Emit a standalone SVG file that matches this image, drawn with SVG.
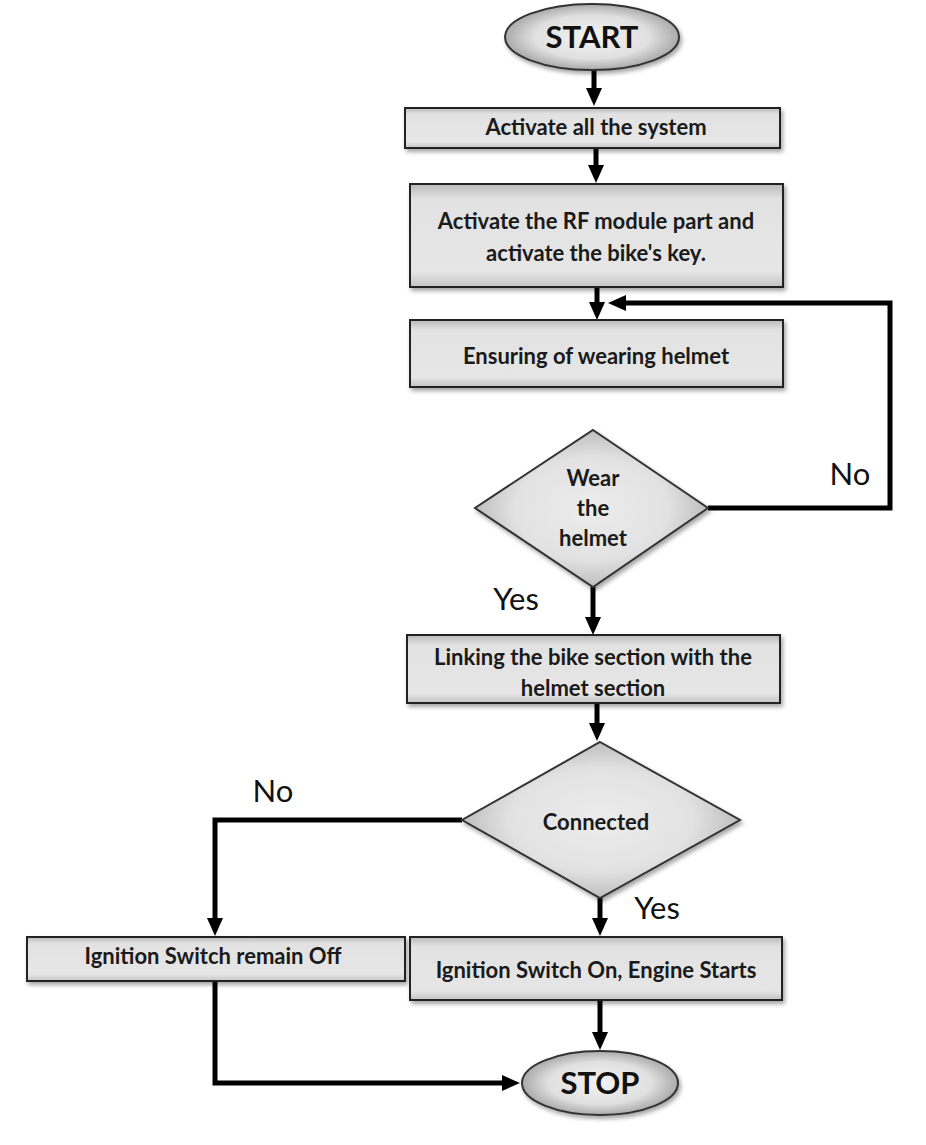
<svg xmlns="http://www.w3.org/2000/svg" width="926" height="1145" viewBox="0 0 926 1145">
<defs>
<linearGradient id="boxg" x1="0" y1="0" x2="0" y2="1">
<stop offset="0" stop-color="#b9b9b9"/>
<stop offset="0.15" stop-color="#e2e2e2"/>
<stop offset="0.85" stop-color="#e6e6e6"/>
<stop offset="1" stop-color="#c4c4c4"/>
</linearGradient>
<radialGradient id="ovalg" cx="0.5" cy="0.5" r="0.55">
<stop offset="0" stop-color="#f2f2f2"/>
<stop offset="0.6" stop-color="#e0e0e0"/>
<stop offset="1" stop-color="#9a9a9a"/>
</radialGradient>
<radialGradient id="diag" cx="0.5" cy="0.5" r="0.6">
<stop offset="0" stop-color="#ececec"/>
<stop offset="0.55" stop-color="#e2e2e2"/>
<stop offset="1" stop-color="#a8a8a8"/>
</radialGradient>
<filter id="sh" x="-10%" y="-10%" width="120%" height="130%">
<feDropShadow dx="2" dy="3" stdDeviation="2" flood-color="#000" flood-opacity="0.35"/>
</filter>
<marker id="ah" markerUnits="userSpaceOnUse" markerWidth="20" markerHeight="18" refX="10" refY="8" orient="auto">
<path d="M0,0 L18,8 L0,16 z" fill="#000"/>
</marker>
</defs>
<style>
.box{fill:url(#boxg);stroke:#222;stroke-width:2;filter:url(#sh)}
.oval{fill:url(#ovalg);stroke:#333;stroke-width:2;filter:url(#sh)}
.dia{fill:url(#diag);stroke:#333;stroke-width:2;filter:url(#sh)}
.t{font-family:Lato,"Open Sans","Liberation Sans",sans-serif;font-weight:bold;font-size:22px;fill:#1a1a1a;text-anchor:middle}
.big{font-family:Lato,"Open Sans","Liberation Sans",sans-serif;font-weight:bold;font-size:31px;fill:#111;text-anchor:middle}
.lbl{font-family:Lato,"Open Sans","Liberation Sans",sans-serif;font-size:31px;fill:#111;text-anchor:middle}
.c{fill:none;stroke:#000;stroke-width:5;stroke-linejoin:miter}
</style>
<rect width="926" height="1145" fill="#fff"/>
<g id="connectors">
<path class="c" d="M594,70 L594,98" marker-end="url(#ah)"/>
<path class="c" d="M596,148 L596,175" marker-end="url(#ah)"/>
<path class="c" d="M597,287 L597,312" marker-end="url(#ah)"/>
<path class="c" d="M708,508 L890,508 L890,303 L616,303" marker-end="url(#ah)"/>
<path class="c" d="M593,587 L593,627" marker-end="url(#ah)"/>
<path class="c" d="M597,703 L597,733" marker-end="url(#ah)"/>
<path class="c" d="M462,820 L215,820 L215,928" marker-end="url(#ah)"/>
<path class="c" d="M600,898 L600,928" marker-end="url(#ah)"/>
<path class="c" d="M600,1000 L600,1042" marker-end="url(#ah)"/>
<path class="c" d="M215,980 L215,1083 L512,1083" marker-end="url(#ah)"/>
</g>
<g id="start">
<ellipse class="oval" cx="592" cy="37" rx="87" ry="33"/>
<text class="big" x="592" y="48">START</text>
</g>
<g id="box1">
<rect class="box" x="405" y="108" width="375" height="40"/>
<text class="t" x="596" y="135">Activate all the system</text>
</g>
<g id="box2">
<rect class="box" x="410" y="184" width="373" height="103"/>
<text class="t" x="596" y="229">Activate the RF module part and</text>
<text class="t" x="596" y="261">activate the bike's key.</text>
</g>
<g id="box3">
<rect class="box" x="410" y="320" width="373" height="67"/>
<text class="t" x="596" y="364">Ensuring of wearing helmet</text>
</g>
<g id="decision1">
<polygon class="dia" points="593,430 708,508 593,587 475,508"/>
<text class="t" x="593" y="486">Wear</text>
<text class="t" x="593" y="516">the</text>
<text class="t" x="593" y="546">helmet</text>
</g>
<text class="lbl" x="850" y="485">No</text>
<text class="lbl" x="516" y="610">Yes</text>
<g id="box4">
<rect class="box" x="407" y="635" width="373" height="68"/>
<text class="t" x="593" y="665">Linking the bike section with the</text>
<text class="t" x="593" y="696">helmet section</text>
</g>
<g id="decision2">
<polygon class="dia" points="600,742 740,820 600,898 462,820"/>
<text class="t" x="596" y="830">Connected</text>
</g>
<text class="lbl" x="273" y="802">No</text>
<text class="lbl" x="657" y="919">Yes</text>
<g id="box5">
<rect class="box" x="27" y="937" width="378" height="44"/>
<text class="t" x="213" y="964">Ignition Switch remain Off</text>
</g>
<g id="box6">
<rect class="box" x="410" y="937" width="372" height="63"/>
<text class="t" x="596" y="978">Ignition Switch On, Engine Starts</text>
</g>
<g id="stop">
<ellipse class="oval" cx="600" cy="1083" rx="78" ry="32"/>
<text class="big" x="600" y="1094">STOP</text>
</g>
</svg>
